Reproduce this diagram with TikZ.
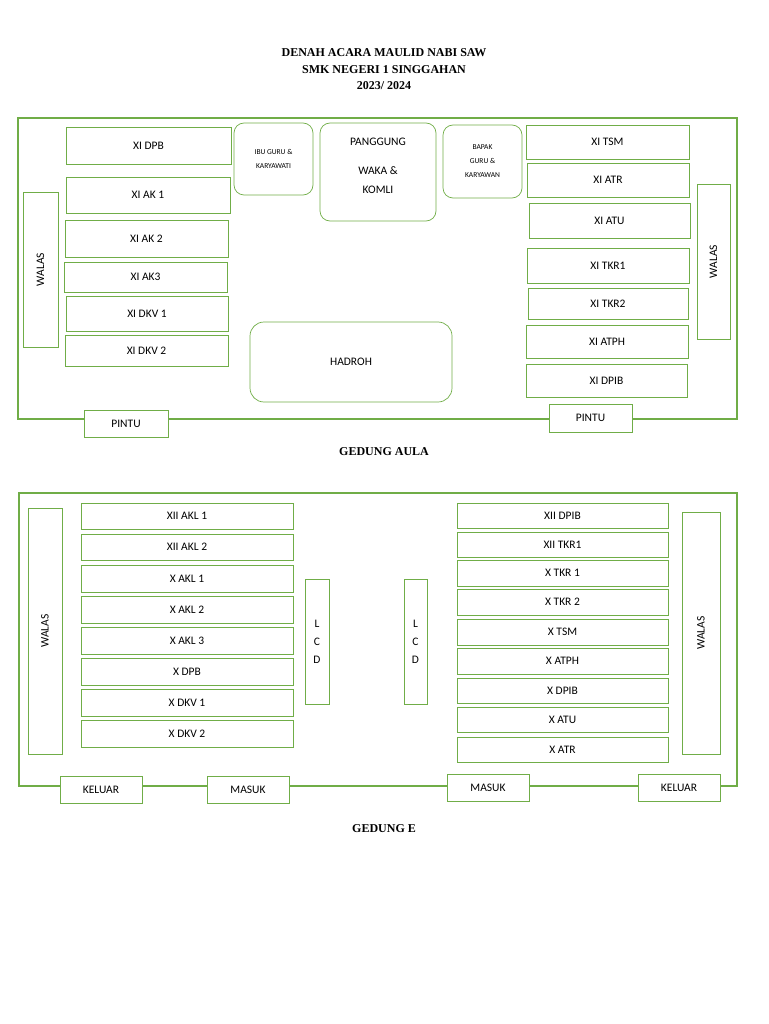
\documentclass[tikz,border=0pt]{standalone}
\usepackage{fontspec}
\setmainfont{Carlito}
\newfontfamily\titlefont{Liberation Serif}
\definecolor{gr}{HTML}{70AD47}
\newcommand{\bx}[7][]{\node[box,#1,minimum width={#5-#3},minimum height={#6-#4}] (#2) at ({(#3+#5)/2},{-(#4+#6)/2}) {#7};}
\begin{document}
\begin{tikzpicture}[x=1pt,y=1pt,
  box/.style={draw=gr,line width=0.9pt,inner sep=1pt,align=center,font=\fontsize{11.5}{14}\selectfont},
  rbox/.style={rounded corners=10pt,line width=0.7pt},
  small/.style={font=\fontsize{7.5}{14}\selectfont},
  lbl/.style={font=\fontsize{11.5}{14}\selectfont},
  frame/.style={draw=gr,line width=1.1pt},
  ttl/.style={font=\titlefont\bfseries\fontsize{12}{14}\selectfont}]
\useasboundingbox (0,0) rectangle (768,-1024);
\node[ttl] (t1) at (384,-53) {DENAH ACARA MAULID NABI SAW};
\node[ttl] (t2) at (384,-70) {SMK NEGERI 1 SINGGAHAN};
\node[ttl] (t3) at (384,-86) {2023/ 2024};
% Aula
\draw[frame] (18,-118) rectangle (737,-419);
\bx{a1}{66}{127}{231}{164}{XI DPB}
\bx{a2}{66}{177}{230}{213}{XI AK 1}
\bx{a3}{65}{220}{228}{257}{XI AK 2}
\bx{a4}{64}{262}{227}{292}{XI AK3}
\bx{a5}{66}{296}{228}{331}{XI DKV 1}
\bx{a6}{65}{335}{228}{366}{XI DKV 2}
\bx{aw1}{23}{192}{58}{347}{}
\node[rotate=90,lbl] at (aw1) {WALAS};
\bx[rbox,small]{ibu}{234}{123}{313}{195}{IBU GURU \&\\KARYAWATI}
\bx[rbox]{pg}{320}{123}{436}{221}{}
\node[lbl] at (378,-142) {PANGGUNG};
\node[lbl,align=center,font=\fontsize{11.5}{19}\selectfont] at (378,-180) {WAKA \&\\KOMLI};
\bx[rbox,small]{bpk}{443}{125}{522}{198}{BAPAK\\GURU \&\\KARYAWAN}
\bx{b1}{526}{125}{689}{159}{XI TSM}
\bx{b2}{527}{163}{689}{197}{XI ATR}
\bx{b3}{529}{203}{690}{238}{XI ATU}
\bx{b4}{527}{248}{689}{283}{XI TKR1}
\bx{b5}{528}{288}{688}{319}{XI TKR2}
\bx{b6}{526}{325}{688}{358}{XI ATPH}
\bx{b7}{526}{364}{687}{397}{XI DPIB}
\bx{aw2}{697}{184}{730}{339}{}
\node[rotate=90,lbl] at (aw2) {WALAS};
\bx[rbox,rounded corners=14pt]{had}{250}{322}{452}{402}{HADROH}
\bx[fill=white]{p1}{84}{410}{168}{437}{PINTU}
\bx[fill=white]{p2}{549}{404}{632}{432}{PINTU}
\node[ttl] (g1) at (384,-452) {GEDUNG AULA};
% Gedung E
\draw[frame] (19,-493) rectangle (737,-786);
\bx{ew1}{28}{508}{62}{754}{}
\node[rotate=90,lbl] at (ew1) {WALAS};
\bx{l1}{81}{503}{293}{529}{XII AKL 1}
\bx{l2}{81}{534}{293}{560}{XII AKL 2}
\bx{l3}{81}{565}{293}{592}{X AKL 1}
\bx{l4}{81}{596}{293}{623}{X AKL 2}
\bx{l5}{81}{627}{293}{654}{X AKL 3}
\bx{l6}{81}{658}{293}{685}{X DPB}
\bx{l7}{81}{689}{293}{716}{X DKV 1}
\bx{l8}{81}{720}{293}{747}{X DKV 2}
\bx[font=\fontsize{11.5}{18}\selectfont]{lcd1}{305}{579}{329}{704}{L\\C\\D}
\bx[font=\fontsize{11.5}{18}\selectfont]{lcd2}{404}{579}{427}{704}{L\\C\\D}
\bx{r1}{457}{503}{668}{528}{XII DPIB}
\bx{r2}{457}{532}{668}{557}{XII TKR1}
\bx{r3}{457}{560}{668}{586}{X TKR 1}
\bx{r4}{457}{589}{668}{615}{X TKR 2}
\bx{r5}{457}{619}{668}{645}{X TSM}
\bx{r6}{457}{648}{668}{674}{X ATPH}
\bx{r7}{457}{678}{668}{703}{X DPIB}
\bx{r8}{457}{707}{668}{732}{X ATU}
\bx{r9}{457}{737}{668}{762}{X ATR}
\bx{ew2}{682}{512}{720}{754}{}
\node[rotate=90,lbl] at (ew2) {WALAS};
\bx[fill=white]{k1}{60}{776}{142}{803}{KELUAR}
\bx[fill=white]{m1}{207}{776}{289}{803}{MASUK}
\bx[fill=white]{m2}{447}{774}{529}{801}{MASUK}
\bx[fill=white]{k2}{638}{774}{720}{801}{KELUAR}
\node[ttl] (g2) at (384,-829) {GEDUNG E};
\end{tikzpicture}
\end{document}
